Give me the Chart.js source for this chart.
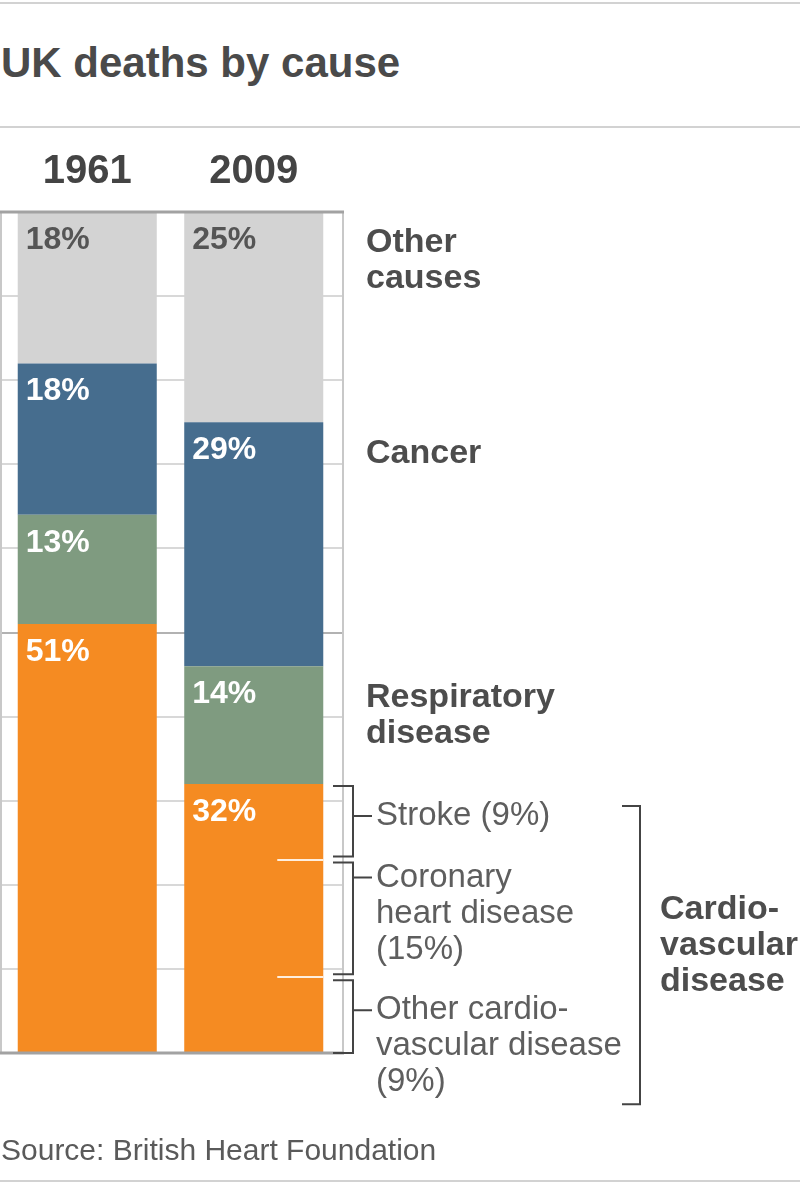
<!DOCTYPE html>
<html>
<head>
<meta charset="utf-8">
<title>UK deaths by cause</title>
<script src="https://cdn.jsdelivr.net/npm/chart.js@4.4.0/dist/chart.umd.min.js"></script>
<style>
  body { margin: 0; background: #fff; font-family: "Liberation Sans", Arial, sans-serif; }
  #wrap { position: relative; width: 800px; height: 1184px; overflow: hidden; }
  .rule { position: absolute; left: 0; width: 800px; height: 0; border-top: 2px solid #d2d2d2; }
  #title { position: absolute; left: 1px; top: 42px; font-size: 42px; line-height: 42px; font-weight: bold; color: #4a4a4a; white-space: nowrap; }
  #source { position: absolute; left: 1px; top: 1135px; font-size: 30px; line-height: 30px; color: #5a5a5a; white-space: nowrap; }
  canvas { position: absolute; left: 0; top: 0; }
</style>
</head>
<body>
<div id="wrap">
  <div class="rule" style="top:2px"></div>
  <div id="title">UK deaths by cause</div>
  <div class="rule" style="top:126px"></div>
  <canvas id="chart" width="800" height="1184"></canvas>
  <div id="source">Source: British Heart Foundation</div>
  <div class="rule" style="top:1180px"></div>
</div>
<script>
// data
const categories = ['1961', '2009'];
const seriesNames = ['Cardiovascular disease', 'Respiratory disease', 'Cancer', 'Other causes'];
const cvdValues = [51, 32];
const respiratoryValues = [13, 14];
const cancerValues = [18, 29];
const otherValues = [18, 25];
const seriesColors = ['#f58b22', '#7f9b80', '#466d8e', '#d3d3d3'];
const yTicks = [0, 10, 20, 30, 40, 50, 60, 70, 80, 90, 100];

// labels on the right, one per series (bottom to top)
const sideLabels = [['Cardio-', 'vascular', 'disease'], ['Respiratory', 'disease'], ['Cancer'], ['Other', 'causes']];
// breakdown of cardiovascular disease in 2009 (top to bottom)
const cvdPartLabels = [['Stroke (9%)'], ['Coronary', 'heart disease', '(15%)'], ['Other cardio-', 'vascular disease', '(9%)']];
const cvdPartValues = [9, 15, 9];

const FONT = '"Liberation Sans", Arial, sans-serif';
const LINE = 36;

const annotate = {
  id: 'annotate',
  beforeDatasetsDraw(chart) {
    const { ctx, chartArea: a, scales: { y } } = chart;
    const left = a.left - 4, right = a.right + 6;
    ctx.save();
    ctx.lineWidth = 2;
    yTicks.forEach(v => {
      const py = Math.round(y.getPixelForValue(v));
      ctx.strokeStyle = v === 50 ? '#b2b2b2' : '#d8d8d8';
      ctx.beginPath();
      ctx.moveTo(left, py);
      ctx.lineTo(right, py);
      ctx.stroke();
    });
    ctx.restore();
  },
  afterDatasetsDraw(chart) {
    const { ctx, chartArea: a, scales: { y } } = chart;
    const left = a.left - 3, right = a.right + 6;
    const yTop = y.getPixelForValue(100), yBot = y.getPixelForValue(0);
    ctx.save();

    // frame
    ctx.strokeStyle = '#c8c8c8';
    ctx.lineWidth = 2;
    [left, right].forEach(x => {
      ctx.beginPath();
      ctx.moveTo(x, yTop);
      ctx.lineTo(x, yBot);
      ctx.stroke();
    });
    ctx.strokeStyle = '#a2a2a2';
    ctx.lineWidth = 3;
    [yTop, yBot].forEach(py => {
      ctx.beginPath();
      ctx.moveTo(left - 2, py);
      ctx.lineTo(right + 1, py);
      ctx.stroke();
    });

    // percentage in each segment
    ctx.font = 'bold 32px ' + FONT;
    ctx.textBaseline = 'alphabetic';
    ctx.textAlign = 'left';
    chart.data.datasets.forEach((ds, i) => {
      chart.getDatasetMeta(i).data.forEach((el, j) => {
        const top = Math.min(el.y, el.base);
        ctx.fillStyle = i === 3 ? '#555555' : '#ffffff';
        ctx.fillText(ds.data[j] + '%', el.x - el.width / 2 + 8, top + 37);
      });
    });

    // series names on the right, level with the 2009 segment tops
    ctx.font = 'bold 34px ' + FONT;
    ctx.fillStyle = '#4d4d4d';
    ctx.textBaseline = 'middle';
    for (let i = 1; i < sideLabels.length; i++) {
      const el = chart.getDatasetMeta(i).data[1];
      sideLabels[i].forEach((line, k) => ctx.fillText(line, right + 23, el.y + 31 + k * LINE));
    }

    // cardiovascular breakdown for 2009
    const bar = chart.getDatasetMeta(0).data[1];
    const total = chart.data.datasets[0].data[1];
    const bounds = [total, total - cvdPartValues[0], cvdPartValues[2], 0].map(v => y.getPixelForValue(v));
    const barRight = bar.x + bar.width / 2;

    ctx.strokeStyle = 'rgba(255,255,255,0.85)';
    ctx.lineWidth = 2;
    [bounds[1], bounds[2]].forEach(py => {
      ctx.beginPath();
      ctx.moveTo(barRight - 46, Math.round(py));
      ctx.lineTo(barRight, Math.round(py));
      ctx.stroke();
    });

    ctx.strokeStyle = '#444444';
    ctx.lineWidth = 2;
    ctx.font = '33px ' + FONT;
    ctx.fillStyle = '#5e5e5e';
    const firstLines = [];
    cvdPartLabels.forEach((lines, k) => {
      const t = bounds[k] + (k === 0 ? 2 : 3);
      const b = k === 2 ? bounds[3] : bounds[k + 1] - 3;
      const half = (b - t) / 2;
      const mid = t + Math.min(half, 30) - (lines.length > 1 && half > 40 ? 15 : 0);
      firstLines.push(mid);
      ctx.beginPath();
      ctx.moveTo(right - 10, t);
      ctx.lineTo(right + 10, t);
      ctx.lineTo(right + 10, b);
      ctx.lineTo(right - 10, b);
      ctx.moveTo(right + 10, mid);
      ctx.lineTo(right + 29, mid);
      ctx.stroke();
      lines.forEach((line, n) => ctx.fillText(line, right + 33, mid + n * LINE));
    });

    // big bracket round the breakdown
    const bt = firstLines[0] - 10;
    const bb = firstLines[2] + 2 * LINE + 22;
    ctx.beginPath();
    ctx.moveTo(right + 279, bt);
    ctx.lineTo(right + 297, bt);
    ctx.lineTo(right + 297, bb);
    ctx.lineTo(right + 279, bb);
    ctx.stroke();

    ctx.font = 'bold 34px ' + FONT;
    ctx.fillStyle = '#4d4d4d';
    const bmid = (bt + bb) / 2 - 9;
    sideLabels[0].forEach((line, k) => ctx.fillText(line, right + 317, bmid + (k - 1) * LINE));

    ctx.restore();
  }
};

const seriesData = [cvdValues, respiratoryValues, cancerValues, otherValues];

new Chart(document.getElementById('chart'), {
  type: 'bar',
  data: {
    labels: categories,
    datasets: seriesNames.map((name, i) => ({
      label: name,
      data: seriesData[i],
      backgroundColor: seriesColors[i],
      borderWidth: 0,
      barPercentage: 0.835,
      categoryPercentage: 1
    }))
  },
  options: {
    responsive: false,
    animation: false,
    layout: { padding: { left: 4, right: 463, top: 132, bottom: 131 } },
    plugins: {
      legend: { display: false },
      tooltip: { enabled: false }
    },
    scales: {
      x: {
        stacked: true,
        position: 'top',
        grid: { display: false, drawTicks: false },
        border: { display: false },
        ticks: { color: '#444444', padding: 16, font: { family: FONT, size: 40, weight: 'bold' } }
      },
      y: {
        stacked: true,
        display: false,
        min: 0,
        max: 100
      }
    }
  },
  plugins: [annotate]
});
</script>
</body>
</html>
